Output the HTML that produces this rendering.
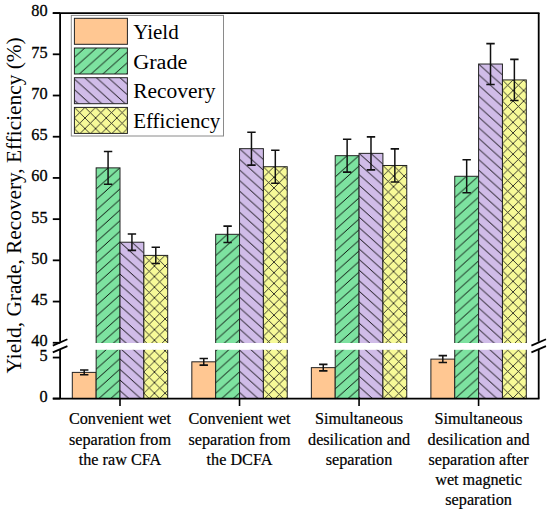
<!DOCTYPE html>
<html><head><meta charset="utf-8"><style>
html,body{margin:0;padding:0;background:#fff;}
svg{display:block;}
text{font-family:"Liberation Serif",serif;fill:#000;}
.b{stroke:#000;stroke-width:0.3px;}
.b2{stroke:#000;stroke-width:0.2px;}
</style></head><body>
<svg width="550" height="514" viewBox="0 0 550 514">
<defs>
<pattern id="p0" patternUnits="userSpaceOnUse" width="11.8" height="10.6" x="96.15" y="167.87"><rect width="11.8" height="10.6" fill="#7DE2A0"/><path d="M-1.180,1.060 L1.180,-1.060 M-0.590,11.130 L12.390,-0.530 M10.620,11.660 L12.980,9.540" stroke="#000" stroke-width="0.95"/></pattern>
<pattern id="p1" patternUnits="userSpaceOnUse" width="11.8" height="10.6" x="120.00" y="242.22"><rect width="11.8" height="10.6" fill="#D0BCE8"/><path d="M-1.180,9.540 L1.180,11.660 M-0.590,-0.530 L12.390,11.130 M10.620,-1.060 L12.980,1.060" stroke="#000" stroke-width="0.95"/></pattern>
<pattern id="p2" patternUnits="userSpaceOnUse" width="10.6" height="10.6" x="143.85" y="255.40"><rect width="10.6" height="10.6" fill="#F7FA98"/><path d="M-1,1 L1,-1 M0,10.6 L10.6,0 M9.6,11.6 L11.6,9.6 M-1,9.6 L1,11.6 M0,0 L10.6,10.6 M9.6,-1 L11.6,1" stroke="#1a1a1a" stroke-width="0.85"/></pattern>
<pattern id="p3" patternUnits="userSpaceOnUse" width="11.8" height="10.6" x="215.68" y="234.31"><rect width="11.8" height="10.6" fill="#7DE2A0"/><path d="M-1.180,1.060 L1.180,-1.060 M-0.590,11.130 L12.390,-0.530 M10.620,11.660 L12.980,9.540" stroke="#000" stroke-width="0.95"/></pattern>
<pattern id="p4" patternUnits="userSpaceOnUse" width="11.8" height="10.6" x="239.53" y="148.67"><rect width="11.8" height="10.6" fill="#D0BCE8"/><path d="M-1.180,9.540 L1.180,11.660 M-0.590,-0.530 L12.390,11.130 M10.620,-1.060 L12.980,1.060" stroke="#000" stroke-width="0.95"/></pattern>
<pattern id="p5" patternUnits="userSpaceOnUse" width="10.6" height="10.6" x="263.38" y="166.72"><rect width="10.6" height="10.6" fill="#F7FA98"/><path d="M-1,1 L1,-1 M0,10.6 L10.6,0 M9.6,11.6 L11.6,9.6 M-1,9.6 L1,11.6 M0,0 L10.6,10.6 M9.6,-1 L11.6,1" stroke="#1a1a1a" stroke-width="0.85"/></pattern>
<pattern id="p6" patternUnits="userSpaceOnUse" width="11.8" height="10.6" x="335.21" y="155.68"><rect width="11.8" height="10.6" fill="#7DE2A0"/><path d="M-1.180,1.060 L1.180,-1.060 M-0.590,11.130 L12.390,-0.530 M10.620,11.660 L12.980,9.540" stroke="#000" stroke-width="0.95"/></pattern>
<pattern id="p7" patternUnits="userSpaceOnUse" width="11.8" height="10.6" x="359.06" y="153.37"><rect width="11.8" height="10.6" fill="#D0BCE8"/><path d="M-1.180,9.540 L1.180,11.660 M-0.590,-0.530 L12.390,11.130 M10.620,-1.060 L12.980,1.060" stroke="#000" stroke-width="0.95"/></pattern>
<pattern id="p8" patternUnits="userSpaceOnUse" width="10.6" height="10.6" x="382.91" y="165.48"><rect width="10.6" height="10.6" fill="#F7FA98"/><path d="M-1,1 L1,-1 M0,10.6 L10.6,0 M9.6,11.6 L11.6,9.6 M-1,9.6 L1,11.6 M0,0 L10.6,10.6 M9.6,-1 L11.6,1" stroke="#1a1a1a" stroke-width="0.85"/></pattern>
<pattern id="p9" patternUnits="userSpaceOnUse" width="11.8" height="10.6" x="454.74" y="176.28"><rect width="11.8" height="10.6" fill="#7DE2A0"/><path d="M-1.180,1.060 L1.180,-1.060 M-0.590,11.130 L12.390,-0.530 M10.620,11.660 L12.980,9.540" stroke="#000" stroke-width="0.95"/></pattern>
<pattern id="p10" patternUnits="userSpaceOnUse" width="11.8" height="10.6" x="478.59" y="64.03"><rect width="11.8" height="10.6" fill="#D0BCE8"/><path d="M-1.180,9.540 L1.180,11.660 M-0.590,-0.530 L12.390,11.130 M10.620,-1.060 L12.980,1.060" stroke="#000" stroke-width="0.95"/></pattern>
<pattern id="p11" patternUnits="userSpaceOnUse" width="10.6" height="10.6" x="502.44" y="79.93"><rect width="10.6" height="10.6" fill="#F7FA98"/><path d="M-1,1 L1,-1 M0,10.6 L10.6,0 M9.6,11.6 L11.6,9.6 M-1,9.6 L1,11.6 M0,0 L10.6,10.6 M9.6,-1 L11.6,1" stroke="#1a1a1a" stroke-width="0.85"/></pattern>
<pattern id="p12" patternUnits="userSpaceOnUse" width="11.8" height="10.6" x="72.90" y="48.00"><rect width="11.8" height="10.6" fill="#7DE2A0"/><path d="M-1.180,1.060 L1.180,-1.060 M-0.590,11.130 L12.390,-0.530 M10.620,11.660 L12.980,9.540" stroke="#000" stroke-width="0.95"/></pattern>
<pattern id="p13" patternUnits="userSpaceOnUse" width="11.8" height="10.6" x="72.90" y="77.70"><rect width="11.8" height="10.6" fill="#D0BCE8"/><path d="M-1.180,9.540 L1.180,11.660 M-0.590,-0.530 L12.390,11.130 M10.620,-1.060 L12.980,1.060" stroke="#000" stroke-width="0.95"/></pattern>
<pattern id="p14" patternUnits="userSpaceOnUse" width="10.6" height="10.6" x="74.40" y="107.40"><rect width="10.6" height="10.6" fill="#F7FA98"/><path d="M-1,1 L1,-1 M0,10.6 L10.6,0 M9.6,11.6 L11.6,9.6 M-1,9.6 L1,11.6 M0,0 L10.6,10.6 M9.6,-1 L11.6,1" stroke="#1a1a1a" stroke-width="0.85"/></pattern>
</defs>
<rect x="72.30" y="372.39" width="23.85" height="26.16" fill="#FFC792" stroke="#222" stroke-width="1"/>
<rect x="96.15" y="167.87" width="23.85" height="230.68" fill="url(#p0)" stroke="#222" stroke-width="1"/>
<rect x="120.00" y="242.22" width="23.85" height="156.33" fill="url(#p1)" stroke="#222" stroke-width="1"/>
<rect x="143.85" y="255.40" width="23.85" height="143.15" fill="url(#p2)" stroke="#222" stroke-width="1"/>
<rect x="191.83" y="361.81" width="23.85" height="36.74" fill="#FFC792" stroke="#222" stroke-width="1"/>
<rect x="215.68" y="234.31" width="23.85" height="164.24" fill="url(#p3)" stroke="#222" stroke-width="1"/>
<rect x="239.53" y="148.67" width="23.85" height="249.88" fill="url(#p4)" stroke="#222" stroke-width="1"/>
<rect x="263.38" y="166.72" width="23.85" height="231.83" fill="url(#p5)" stroke="#222" stroke-width="1"/>
<rect x="311.36" y="367.64" width="23.85" height="30.91" fill="#FFC792" stroke="#222" stroke-width="1"/>
<rect x="335.21" y="155.68" width="23.85" height="242.87" fill="url(#p6)" stroke="#222" stroke-width="1"/>
<rect x="359.06" y="153.37" width="23.85" height="245.18" fill="url(#p7)" stroke="#222" stroke-width="1"/>
<rect x="382.91" y="165.48" width="23.85" height="233.07" fill="url(#p8)" stroke="#222" stroke-width="1"/>
<rect x="430.89" y="359.11" width="23.85" height="39.44" fill="#FFC792" stroke="#222" stroke-width="1"/>
<rect x="454.74" y="176.28" width="23.85" height="222.27" fill="url(#p9)" stroke="#222" stroke-width="1"/>
<rect x="478.59" y="64.03" width="23.85" height="334.52" fill="url(#p10)" stroke="#222" stroke-width="1"/>
<rect x="502.44" y="79.93" width="23.85" height="318.62" fill="url(#p11)" stroke="#222" stroke-width="1"/>
<rect x="62" y="343" width="474" height="6.8" fill="#fff"/>
<path d="M84.22,370.01 V374.77" stroke="#111" stroke-width="1.5" fill="none"/>
<path d="M80.02,370.01 H88.42 M80.02,374.77 H88.42" stroke="#111" stroke-width="1.6" fill="none"/>
<path d="M108.08,151.47 V184.28" stroke="#111" stroke-width="1.5" fill="none"/>
<path d="M103.88,151.47 H112.28 M103.88,184.28 H112.28" stroke="#111" stroke-width="1.6" fill="none"/>
<path d="M131.93,234.06 V250.38" stroke="#111" stroke-width="1.5" fill="none"/>
<path d="M127.73,234.06 H136.12 M127.73,250.38 H136.12" stroke="#111" stroke-width="1.6" fill="none"/>
<path d="M155.78,247.25 V263.56" stroke="#111" stroke-width="1.5" fill="none"/>
<path d="M151.58,247.25 H159.97 M151.58,263.56 H159.97" stroke="#111" stroke-width="1.6" fill="none"/>
<path d="M203.75,358.53 V365.09" stroke="#111" stroke-width="1.5" fill="none"/>
<path d="M199.56,358.53 H207.95 M199.56,365.09 H207.95" stroke="#111" stroke-width="1.6" fill="none"/>
<path d="M227.60,226.15 V242.46" stroke="#111" stroke-width="1.5" fill="none"/>
<path d="M223.41,226.15 H231.80 M223.41,242.46 H231.80" stroke="#111" stroke-width="1.6" fill="none"/>
<path d="M251.46,132.19 V165.15" stroke="#111" stroke-width="1.5" fill="none"/>
<path d="M247.26,132.19 H255.66 M247.26,165.15 H255.66" stroke="#111" stroke-width="1.6" fill="none"/>
<path d="M275.31,150.24 V183.20" stroke="#111" stroke-width="1.5" fill="none"/>
<path d="M271.11,150.24 H279.50 M271.11,183.20 H279.50" stroke="#111" stroke-width="1.6" fill="none"/>
<path d="M323.28,364.36 V370.92" stroke="#111" stroke-width="1.5" fill="none"/>
<path d="M319.08,364.36 H327.48 M319.08,370.92 H327.48" stroke="#111" stroke-width="1.6" fill="none"/>
<path d="M347.13,139.19 V172.16" stroke="#111" stroke-width="1.5" fill="none"/>
<path d="M342.94,139.19 H351.33 M342.94,172.16 H351.33" stroke="#111" stroke-width="1.6" fill="none"/>
<path d="M370.99,136.88 V169.85" stroke="#111" stroke-width="1.5" fill="none"/>
<path d="M366.79,136.88 H375.19 M366.79,169.85 H375.19" stroke="#111" stroke-width="1.6" fill="none"/>
<path d="M394.84,148.92 V182.05" stroke="#111" stroke-width="1.5" fill="none"/>
<path d="M390.64,148.92 H399.04 M390.64,182.05 H399.04" stroke="#111" stroke-width="1.6" fill="none"/>
<path d="M442.82,355.66 V362.55" stroke="#111" stroke-width="1.5" fill="none"/>
<path d="M438.62,355.66 H447.02 M438.62,362.55 H447.02" stroke="#111" stroke-width="1.6" fill="none"/>
<path d="M466.67,159.80 V192.77" stroke="#111" stroke-width="1.5" fill="none"/>
<path d="M462.47,159.80 H470.87 M462.47,192.77 H470.87" stroke="#111" stroke-width="1.6" fill="none"/>
<path d="M490.52,43.59 V84.47" stroke="#111" stroke-width="1.5" fill="none"/>
<path d="M486.32,43.59 H494.72 M486.32,84.47 H494.72" stroke="#111" stroke-width="1.6" fill="none"/>
<path d="M514.37,59.41 V100.46" stroke="#111" stroke-width="1.5" fill="none"/>
<path d="M510.17,59.41 H518.57 M510.17,100.46 H518.57" stroke="#111" stroke-width="1.6" fill="none"/>
<path d="M52.8,13.07 H539.5" stroke="#000" stroke-width="1.8"/>
<path d="M52.8,398.55 H539.5" stroke="#000" stroke-width="1.8"/>
<path d="M60.1,13.07 V341.8 M60.1,349.6 V398.55 M538.7,13.07 V341.8 M538.7,349.6 V398.55" stroke="#000" stroke-width="1.8"/>
<path d="M52.80,345.55 L67.40,339.25" stroke="#000" stroke-width="1.8"/>
<path d="M52.80,352.45 L67.40,346.15" stroke="#000" stroke-width="1.8"/>
<path d="M531.40,345.55 L546.00,339.25" stroke="#000" stroke-width="1.8"/>
<path d="M531.40,352.45 L546.00,346.15" stroke="#000" stroke-width="1.8"/>
<path d="M52.8,13.09 H60.1" stroke="#000" stroke-width="1.8"/>
<text x="47.6" y="16.49" font-size="16.3" text-anchor="end" class="b">80</text>
<path d="M52.8,54.30 H60.1" stroke="#000" stroke-width="1.8"/>
<text x="47.6" y="57.70" font-size="16.3" text-anchor="end" class="b">75</text>
<path d="M52.8,95.51 H60.1" stroke="#000" stroke-width="1.8"/>
<text x="47.6" y="98.91" font-size="16.3" text-anchor="end" class="b">70</text>
<path d="M52.8,136.72 H60.1" stroke="#000" stroke-width="1.8"/>
<text x="47.6" y="140.12" font-size="16.3" text-anchor="end" class="b">65</text>
<path d="M52.8,177.93 H60.1" stroke="#000" stroke-width="1.8"/>
<text x="47.6" y="181.33" font-size="16.3" text-anchor="end" class="b">60</text>
<path d="M52.8,219.14 H60.1" stroke="#000" stroke-width="1.8"/>
<text x="47.6" y="222.54" font-size="16.3" text-anchor="end" class="b">55</text>
<path d="M52.8,260.35 H60.1" stroke="#000" stroke-width="1.8"/>
<text x="47.6" y="263.75" font-size="16.3" text-anchor="end" class="b">50</text>
<path d="M52.8,301.56 H60.1" stroke="#000" stroke-width="1.8"/>
<text x="47.6" y="304.96" font-size="16.3" text-anchor="end" class="b">45</text>
<path d="M52.8,342.77 H60.1" stroke="#000" stroke-width="1.8"/>
<text x="47.6" y="346.17" font-size="16.3" text-anchor="end" class="b">40</text>
<path d="M52.8,357.55 H60.1" stroke="#000" stroke-width="1.8"/>
<text x="47.6" y="360.95" font-size="16.3" text-anchor="end" class="b">5</text>
<path d="M52.8,398.55 H60.1" stroke="#000" stroke-width="1.8"/>
<text x="47.6" y="401.95" font-size="16.3" text-anchor="end" class="b">0</text>
<path d="M120.00,398.55 V406" stroke="#000" stroke-width="1.6"/>
<path d="M239.53,398.55 V406" stroke="#000" stroke-width="1.6"/>
<path d="M359.06,398.55 V406" stroke="#000" stroke-width="1.6"/>
<path d="M478.59,398.55 V406" stroke="#000" stroke-width="1.6"/>
<text x="120.00" y="424.20" font-size="16.2" text-anchor="middle" class="b2">Convenient wet</text>
<text x="120.00" y="444.50" font-size="16.2" text-anchor="middle" class="b2">separation from</text>
<text x="120.00" y="464.80" font-size="16.2" text-anchor="middle" class="b2">the raw CFA</text>
<text x="239.53" y="424.20" font-size="16.2" text-anchor="middle" class="b2">Convenient wet</text>
<text x="239.53" y="444.50" font-size="16.2" text-anchor="middle" class="b2">separation from</text>
<text x="239.53" y="464.80" font-size="16.2" text-anchor="middle" class="b2">the DCFA</text>
<text x="359.06" y="424.20" font-size="16.2" text-anchor="middle" class="b2">Simultaneous</text>
<text x="359.06" y="444.50" font-size="16.2" text-anchor="middle" class="b2">desilication and</text>
<text x="359.06" y="464.80" font-size="16.2" text-anchor="middle" class="b2">separation</text>
<text x="478.59" y="424.20" font-size="16.2" text-anchor="middle" class="b2">Simultaneous</text>
<text x="478.59" y="444.50" font-size="16.2" text-anchor="middle" class="b2">desilication and</text>
<text x="478.59" y="464.80" font-size="16.2" text-anchor="middle" class="b2">separation after</text>
<text x="478.59" y="485.10" font-size="16.2" text-anchor="middle" class="b2">wet magnetic</text>
<text x="478.59" y="505.40" font-size="16.2" text-anchor="middle" class="b2">separation</text>
<text transform="translate(21,205.4) rotate(-90)" font-size="20.5" text-anchor="middle" textLength="336" lengthAdjust="spacingAndGlyphs">Yield, Grade, Recovery, Efficiency (%)</text>
<rect x="71.3" y="15.4" width="152.2" height="120.6" fill="#fff" stroke="#8a8a8a" stroke-width="1"/>
<rect x="74.4" y="18.30" width="53" height="26" fill="#FFC792" stroke="#222" stroke-width="1"/>
<text x="133.2" y="38.90" font-size="20.5" textLength="45.5" lengthAdjust="spacingAndGlyphs">Yield</text>
<rect x="74.4" y="48.00" width="53" height="26" fill="url(#p12)" stroke="#222" stroke-width="1"/>
<text x="133.2" y="68.60" font-size="20.5" textLength="54.2" lengthAdjust="spacingAndGlyphs">Grade</text>
<rect x="74.4" y="77.70" width="53" height="26" fill="url(#p13)" stroke="#222" stroke-width="1"/>
<text x="133.2" y="98.30" font-size="20.5" textLength="82.2" lengthAdjust="spacingAndGlyphs">Recovery</text>
<rect x="74.4" y="107.40" width="53" height="26" fill="url(#p14)" stroke="#222" stroke-width="1"/>
<text x="133.2" y="128.00" font-size="20.5" textLength="87.0" lengthAdjust="spacingAndGlyphs">Efficiency</text>
</svg></body></html>
